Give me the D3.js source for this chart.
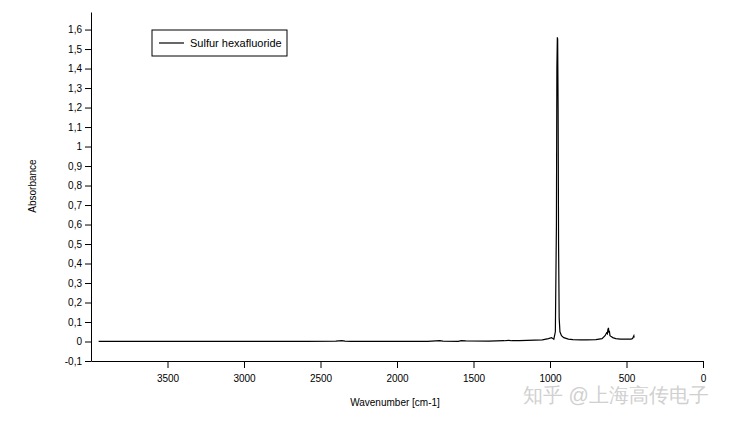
<!DOCTYPE html>
<html><head><meta charset="utf-8">
<script src="https://cdn.jsdelivr.net/npm/d3@7"></script>
<style>body{margin:0;background:#fff}text{font-family:Arial,"Liberation Sans",sans-serif}</style>
</head><body><svg id="c" width="739" height="421"></svg>
<script>
const wavenumbers = [3950,3800,3600,3400,3200,3000,2800,2600,2400,2360,2340,2300,2200,2000,1800,1720,1700,1600,1580,1550,1400,1300,1270,1250,1200,1100,1050,1010,990,975,965,958,955,952,950,947,944,940,935,925,910,880,850,800,760,700,660,640,630,625,622,618,615,612,608,600,590,570,540,500,470,460,455,452,450];
const absorbance = [0.001,0.001,0.001,0.001,0.001,0.001,0.001,0.001,0.002,0.004,0.002,0.001,0.001,0.001,0.001,0.004,0.002,0.001,0.004,0.003,0.002,0.004,0.006,0.004,0.005,0.007,0.008,0.015,0.02,0.012,0.05,0.6,1.4,1.56,1.55,1.2,0.5,0.12,0.05,0.03,0.02,0.012,0.01,0.008,0.008,0.01,0.015,0.03,0.045,0.04,0.06,0.07,0.045,0.055,0.03,0.025,0.02,0.015,0.012,0.012,0.012,0.015,0.025,0.03,0.02];
const yTicks = [-0.1,0,0.1,0.2,0.3,0.4,0.5,0.6,0.7,0.8,0.9,1,1.1,1.2,1.3,1.4,1.5,1.6];
const xTicks = [3500,3000,2500,2000,1500,1000,500,0];
const seriesName = "Sulfur hexafluoride";

const svg = d3.select("#c");
const x = d3.scaleLinear().domain([4000,0]).range([91,703]);
const y = d3.scaleLinear().domain([-0.1,1.69]).range([361,12]);
const fmt = d => String(+d.toFixed(1)).replace(".", ",");

svg.append("g").attr("transform","translate(91,0)")
  .call(d3.axisLeft(y).tickValues(yTicks).tickFormat(fmt).tickSize(6).tickSizeOuter(0))
  .call(g=>g.selectAll("text").attr("font-size",10).attr("fill","#000"));
svg.append("g").attr("transform","translate(0,361)")
  .call(d3.axisBottom(x).tickValues(xTicks).tickFormat(d3.format("d")).tickSize(7).tickSizeOuter(0))
  .call(g=>g.selectAll("text").attr("font-size",10).attr("fill","#000").attr("dy","1.1em"));
svg.selectAll(".domain").attr("stroke","#000");

const pts = wavenumbers.map((w,i)=>[w,absorbance[i]]);
svg.append("path").datum(pts).attr("fill","none").attr("stroke","#000").attr("stroke-width",1.2)
  .attr("d", d3.line().x(d=>x(d[0])).y(d=>y(d[1])));

svg.append("rect").attr("x",152).attr("y",30).attr("width",135).attr("height",26).attr("fill","#fff").attr("stroke","#000");
svg.append("line").attr("x1",159).attr("x2",184).attr("y1",43).attr("y2",43).attr("stroke","#000").attr("stroke-width",1.2);
svg.append("text").attr("x",190).attr("y",47).attr("font-size",11).text(seriesName);

svg.append("text").attr("transform","translate(36,186) rotate(-90)").attr("text-anchor","middle").attr("font-size",10).text("Absorbance");
svg.append("text").attr("x",395).attr("y",406).attr("text-anchor","middle").attr("font-size",10).text("Wavenumber [cm-1]");
svg.append("text").attr("x",523).attr("y",402).attr("font-size",20).attr("fill","#d0d0d0").attr("font-family","Noto Sans CJK SC").text("知乎 @上海高传电子");
</script></body></html>
